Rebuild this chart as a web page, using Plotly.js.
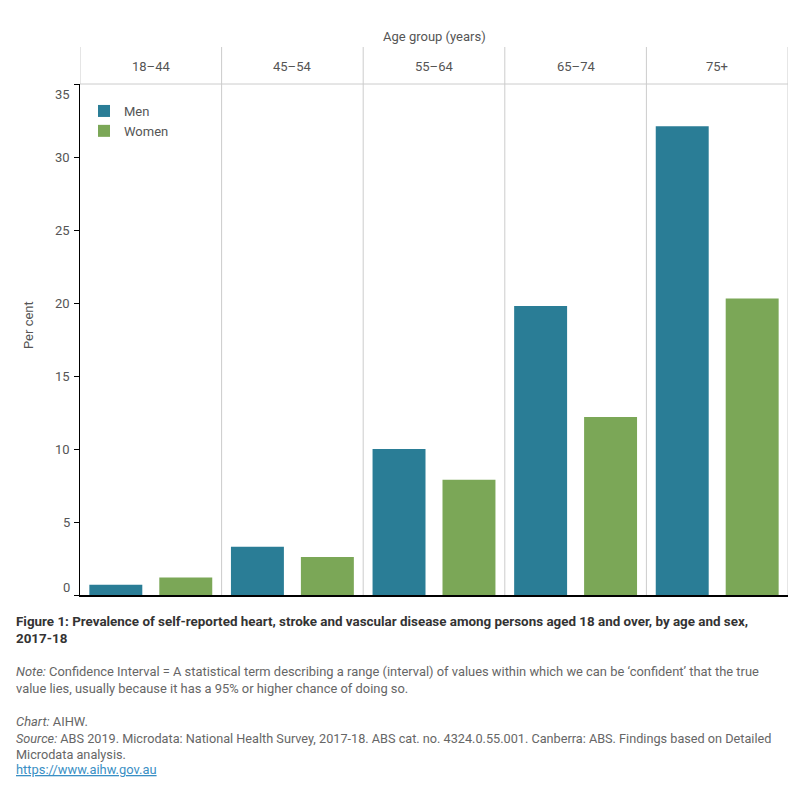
<!DOCTYPE html>
<html>
<head>
<meta charset="utf-8">
<script src="https://cdn.plot.ly/plotly-3.0.1.min.js"></script>
<style>
  html, body { margin: 0; padding: 0; background: #fff; }
  #chart { width: 800px; height: 800px; }
</style>
</head>
<body>
<div id="chart"></div>
<script>
// Prevalence (%) of self-reported heart, stroke and vascular disease, 2017-18
const ageGroups = ['18–44', '45–54', '55–64', '65–74', '75+'];
const men = [0.7, 3.3, 10.0, 19.8, 32.1];
const women = [1.2, 2.6, 7.9, 12.2, 20.3];
const yTicks = [0, 5, 10, 15, 20, 25, 30, 35];

const footerLines = [
  {text: '<b>Figure 1: Prevalence of self-reported heart, stroke and vascular disease among persons aged 18 and over, by age and sex,</b>', py: 621.5, color: '#333', size: 13.4},
  {text: '<b>2017-18</b>', py: 638, color: '#333', size: 13.4},
  {text: '<i>Note:</i> Confidence Interval = A statistical term describing a range (interval) of values within which we can be ‘confident’ that the true', py: 671, color: '#666', size: 12.9},
  {text: 'value lies, usually because it has a 95% or higher chance of doing so.', py: 688, color: '#666', size: 12.9},
  {text: '<i>Chart:</i> AIHW.', py: 721, color: '#666', size: 12.9},
  {text: '<i>Source:</i> ABS 2019. Microdata: National Health Survey, 2017-18. ABS cat. no. 4324.0.55.001. Canberra: ABS. Findings based on Detailed', py: 738, color: '#666', size: 12.7},
  {text: 'Microdata analysis.', py: 754, color: '#666', size: 12.7},
  {text: '<span style="text-decoration:underline">https://www.aihw.gov.au</span>', py: 769.5, color: '#3a8fc4', size: 12.9}
];

const FONT = 'Roboto, sans-serif';
const TEXT_GREY = '#555';
const GRID_GREY = '#cccccc';

// plot area in pixels
const M = {l: 80, r: 12, t: 84, b: 205};
const plotH = 800 - M.t - M.b;
const toPaperY = py => (800 - M.b - py) / plotH;
const toPaperX = px => (px - M.l) / (800 - M.l - M.r);

// two bars per age panel, each 0.374 of the panel wide, set apart around the centre
const BAR_W = 0.374;
const traces = [
  {type: 'bar', name: 'Men', x: ageGroups, y: men, width: BAR_W, offset: -0.434,
   marker: {color: '#2a7d96'}, hoverinfo: 'skip'},
  {type: 'bar', name: 'Women', x: ageGroups, y: women, width: BAR_W, offset: 0.060,
   marker: {color: '#7ba757'}, hoverinfo: 'skip'}
];

const headerTop = toPaperY(47);
const shapes = [];
// panel separators (full height), plus the header border on the left edge
ageGroups.forEach((g, i) => {
  shapes.push({type: 'line', xref: 'x', yref: 'paper',
    x0: i + 0.5, x1: i + 0.5, y0: 0, y1: headerTop,
    line: {color: GRID_GREY, width: 1}, layer: 'below'});
});
shapes.push({type: 'line', xref: 'x', yref: 'paper', x0: -0.5, x1: -0.5,
  y0: 1, y1: headerTop, line: {color: GRID_GREY, width: 1}});
// header bottom border
shapes.push({type: 'line', xref: 'paper', yref: 'paper', x0: 0, x1: 1,
  y0: 1, y1: 1, line: {color: GRID_GREY, width: 1}});

const annotations = [];
annotations.push({text: 'Age group (years)', xref: 'paper', yref: 'paper',
  x: 0.5, y: toPaperY(37), xanchor: 'center', yanchor: 'middle', showarrow: false,
  font: {family: FONT, size: 13, color: TEXT_GREY}});
ageGroups.forEach(g => {
  annotations.push({text: g, xref: 'x', yref: 'paper', x: g, y: toPaperY(66.5),
    xanchor: 'center', yanchor: 'middle', showarrow: false,
    font: {family: FONT, size: 13, color: TEXT_GREY}});
});
// y tick labels; the end labels are kept inside the axis span
const yMax = yTicks[yTicks.length - 1];
yTicks.forEach(v => {
  annotations.push({text: String(v), xref: 'paper', yref: 'y', x: toPaperX(72), y: v,
    xanchor: 'right', yanchor: 'middle', showarrow: false,
    yshift: v === 0 ? 8 : (v === yMax ? -10 : 0),
    font: {family: FONT, size: 13, color: TEXT_GREY}});
});
annotations.push({text: 'Per cent', xref: 'paper', yref: 'paper',
  x: toPaperX(28), y: toPaperY(325), xanchor: 'center', yanchor: 'middle',
  textangle: -90, showarrow: false, font: {family: FONT, size: 13, color: TEXT_GREY}});
footerLines.forEach(l => {
  annotations.push({text: l.text, xref: 'paper', yref: 'paper',
    x: toPaperX(14), y: toPaperY(l.py), xanchor: 'left', yanchor: 'middle',
    showarrow: false, align: 'left', font: {family: FONT, size: l.size, color: l.color}});
});

const layout = {
  width: 800, height: 800,
  margin: M,
  paper_bgcolor: '#fff', plot_bgcolor: '#fff',
  barmode: 'overlay',
  font: {family: FONT, size: 13, color: TEXT_GREY},
  showlegend: true,
  legend: {x: toPaperX(84), y: toPaperY(96), xanchor: 'left', yanchor: 'top',
    bgcolor: 'rgba(0,0,0,0)', font: {family: FONT, size: 13, color: TEXT_GREY},
    tracegroupgap: 0},
  xaxis: {type: 'category', categoryorder: 'array', categoryarray: ageGroups,
    range: [-0.5, ageGroups.length - 0.5],
    showticklabels: false, ticks: '', showgrid: false, zeroline: false,
    showline: true, linecolor: '#000', linewidth: 1.5, fixedrange: true},
  yaxis: {range: [0, 35], tickvals: yTicks, ticks: 'outside', ticklen: 5,
    tickcolor: '#000', tickwidth: 1, showline: true, linecolor: '#000', linewidth: 1.5,
    showticklabels: false, showgrid: false, zeroline: false, fixedrange: true},
  shapes: shapes,
  annotations: annotations
};

Plotly.newPlot('chart', traces, layout, {displayModeBar: false, staticPlot: true});
</script>
</body>
</html>
